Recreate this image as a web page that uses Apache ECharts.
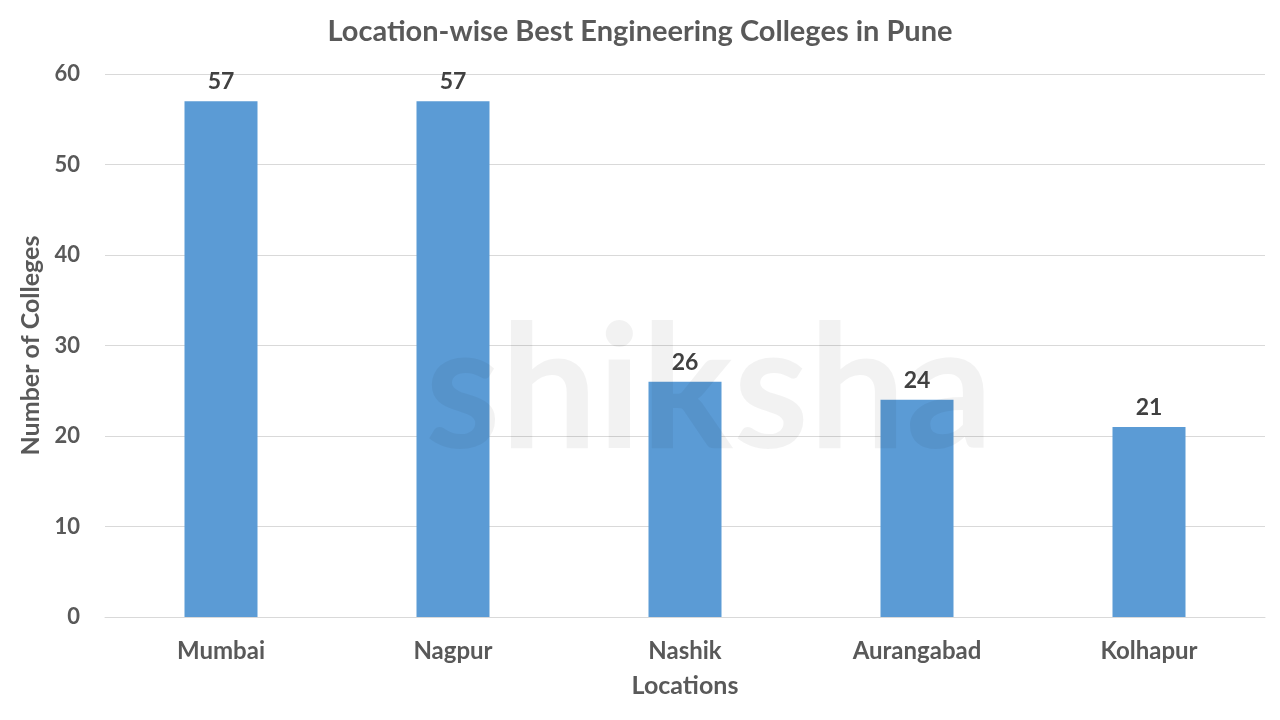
<!DOCTYPE html>
<html><head><meta charset="utf-8">
<script src="https://cdn.jsdelivr.net/npm/echarts@6/dist/echarts.min.js"></script>
<style>html,body{margin:0;padding:0;background:#fff}#c{width:1280px;height:720px}</style>
</head><body><div id="c"></div>
<script>
const categories = ["Mumbai", "Nagpur", "Nashik", "Aurangabad", "Kolhapur"];
const colleges = [57, 57, 26, 24, 21];
const yTicks = [0, 10, 20, 30, 40, 50, 60];

const chart = echarts.init(document.getElementById('c'));
const font = 'Lato, "Open Sans", sans-serif';
chart.setOption({
  animation: false,
  backgroundColor: '#ffffff',
  title: {
    text: 'Location-wise Best Engineering Colleges in Pune',
    left: 'center', top: 12,
    textStyle: { fontFamily: font, fontSize: 29, fontWeight: 'bold', color: '#595959' }
  },
  grid: { left: 105, right: 15, top: 74, bottom: 103 },
  xAxis: {
    type: 'category', data: categories,
    name: 'Locations', nameLocation: 'middle', nameGap: 56,
    nameTextStyle: { fontFamily: font, fontSize: 25, fontWeight: 'bold', color: '#595959' },
    axisLine: { lineStyle: { color: '#d9d9d9' } },
    axisTick: { show: false },
    axisLabel: { fontFamily: font, fontSize: 24, fontWeight: 'bold', color: '#595959', margin: 22 }
  },
  yAxis: {
    type: 'value', min: yTicks[0], max: yTicks[yTicks.length - 1], interval: 10,
    name: 'Number of Colleges', nameLocation: 'middle', nameGap: 57, nameRotate: 90,
    nameTextStyle: { fontFamily: font, fontSize: 25, fontWeight: 'bold', color: '#595959' },
    axisLine: { show: false }, axisTick: { show: false },
    splitLine: { lineStyle: { color: '#d9d9d9', width: 1 } },
    axisLabel: { fontFamily: font, fontSize: 22, fontWeight: 'bold', color: '#595959', margin: 25 }
  },
  series: [{
    type: 'bar', data: colleges, barWidth: 73,
    itemStyle: { color: '#5b9bd5' },
    label: { show: true, position: 'top', distance: 8, fontFamily: font, fontSize: 23, fontWeight: 'bold', color: '#404040' }
  }],
  graphic: [{
    type: 'text', left: 425, top: 307, z: 100, silent: true,
    style: { text: 'shiksha', fontFamily: font, fontSize: 172, fontWeight: 'bold', fill: 'rgba(0,0,0,0.05)' }
  }]
});
</script></body></html>
